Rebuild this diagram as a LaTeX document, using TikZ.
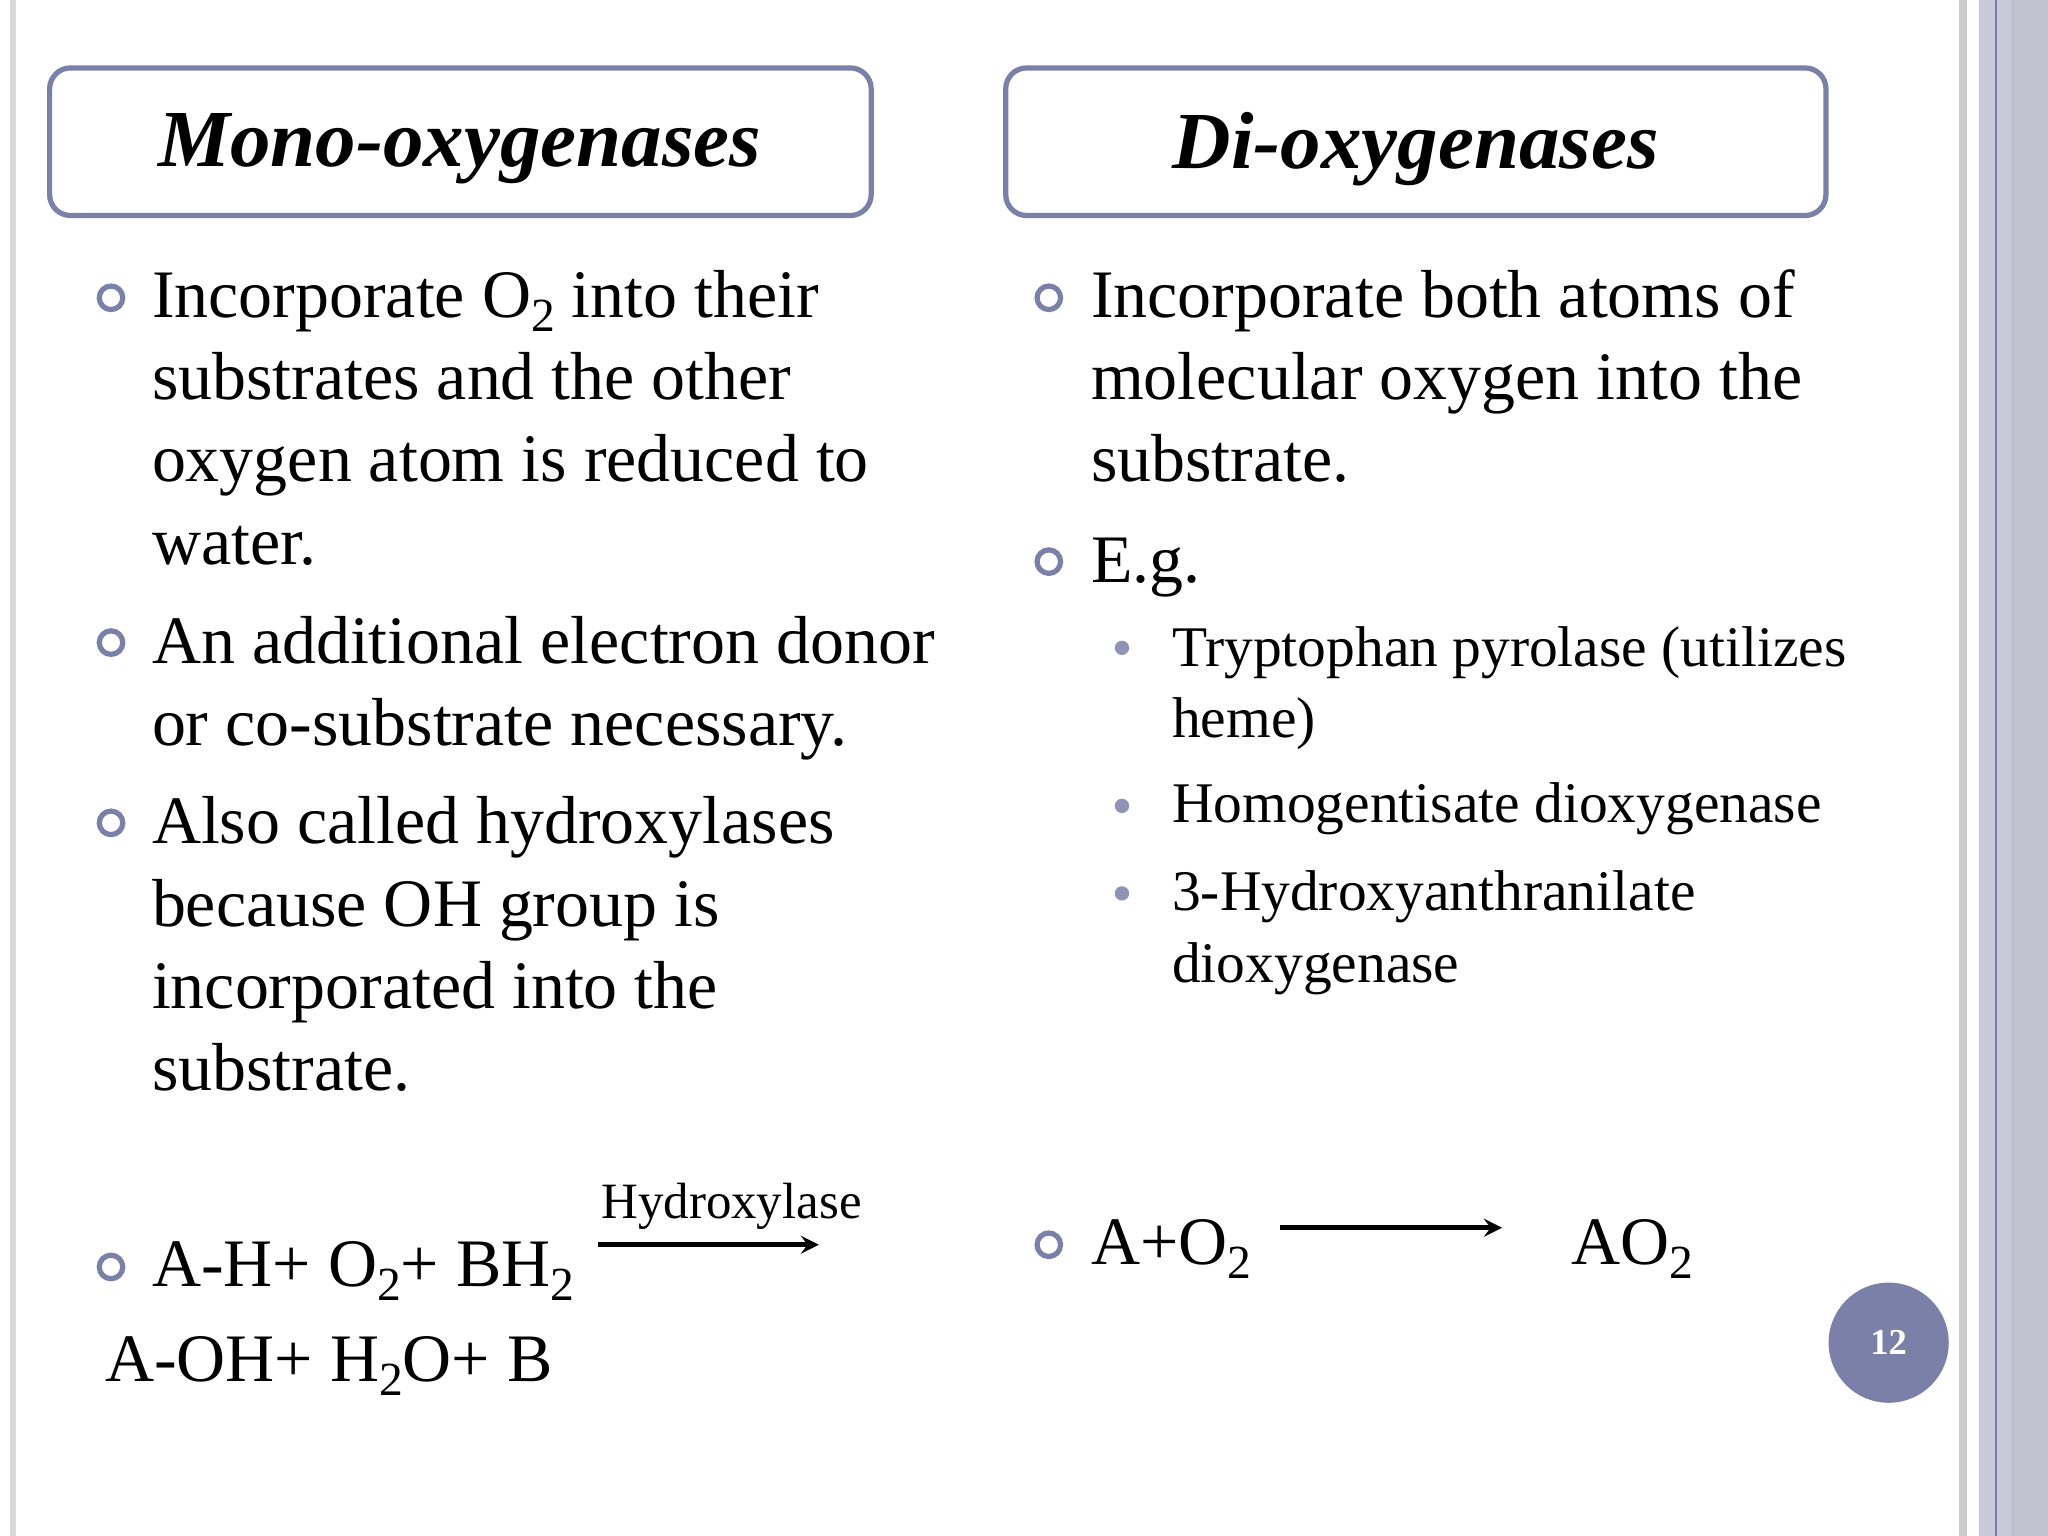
\documentclass[tikz,border=0pt]{standalone}
\usepackage{fontspec}
\setmainfont{Liberation Serif}
\newcommand{\sbs}[1]{\raisebox{-0.45ex}{\fontsize{0.7em}{1em}\selectfont #1}}
\begin{document}
\begin{tikzpicture}[x=0.5pt,y=-0.5pt,
  hbox/.style={draw=boxc,line width=2pt,rounded corners=8pt},
  ttl/.style={font=\fontsize{31}{33}\selectfont\bfseries\itshape},
  txt/.style={anchor=base west,inner sep=0,font=\fontsize{26}{30}\selectfont},
  stxt/.style={anchor=base west,inner sep=0,font=\fontsize{22}{26}\selectfont},
  bul/.style={draw=boxc,line width=2pt,circle,minimum size=9pt,inner sep=0},
  sbul/.style={fill=dotc,circle,minimum size=5.5pt,inner sep=0},
  arr/.style={-stealth,line width=2pt}]
\definecolor{boxc}{HTML}{7A80A8}
\definecolor{dotc}{HTML}{8F93B5}
\definecolor{band}{HTML}{C8CAD9}
\useasboundingbox (0,0) rectangle (1568,1176);
\fill[white] (0,0) rectangle (1568,1176);
% side decoration
\fill[gray!30] (8,0) rectangle (12,1176);
\fill[gray!40] (1500,0) rectangle (1506,1176);
\fill[band] (1515,0) rectangle (1568,1176);
\fill[band!96!black] (1540,0) rectangle (1568,1176);
\draw[boxc,line width=0.6pt] (1528,0) -- (1528,1176);
% headers
\draw[hbox] (38,52) rectangle (667,165);
\node[ttl] (tl) at (352,114) {Mono-oxygenases};
\draw[hbox] (770,52) rectangle (1398,165);
\node[ttl] (tr) at (1084,114) {Di-oxygenases};
% left column
\node[bul] (b1) at (85,228) {};
\node[txt] (l1) at (116,243) {Incorporate O\sbs{2} into their};
\node[txt] (l2) at (116,306) {substrates and the other};
\node[txt] (l3) at (116,369) {oxygen atom is reduced to};
\node[txt] (l4) at (116,432) {water.};
\node[bul] (b2) at (85,492) {};
\node[txt] (l5) at (116,508) {An additional electron donor};
\node[txt] (l6) at (116,571) {or co-substrate necessary.};
\node[bul] (b3) at (85,630) {};
\node[txt] (l7) at (116,646) {Also called hydroxylases};
\node[txt] (l8) at (116,709) {because OH group is};
\node[txt] (l9) at (116,772) {incorporated into the};
\node[txt] (l10) at (116,835) {substrate.};
% right column
\node[bul] (r1b) at (803,228) {};
\node[txt] (r1) at (835,243) {Incorporate both atoms of};
\node[txt] (r2) at (835,306) {molecular oxygen into the};
\node[txt] (r3) at (835,369) {substrate.};
\node[bul] (r4b) at (803,430) {};
\node[txt] (r4) at (835,446) {E.g.};
\node[sbul] (s1b) at (859,496) {};
\node[stxt] (s1) at (897,510) {Tryptophan pyrolase (utilizes};
\node[stxt] (s2) at (897,565) {heme)};
\node[sbul] (s3b) at (859,617) {};
\node[stxt] (s3) at (897,630) {Homogentisate dioxygenase};
\node[sbul] (s4b) at (859,684) {};
\node[stxt] (s4) at (897,697) {3-Hydroxyanthranilate};
\node[stxt] (s5) at (897,752) {dioxygenase};
% equations
\node[bul] (e1b) at (85,970) {};
\node[txt] (e1) at (116,985) {A-H+ O\sbs{2}+ BH\sbs{2}};
\node[txt] (e2) at (80,1058) {A-OH+ H\sbs{2}O+ B};
\node[stxt,font=\fontsize{19.5}{22}\selectfont] (hy) at (460,933) {Hydroxylase};
\coordinate (a1s) at (458,953); \coordinate (a1e) at (627,953);
\draw[arr] (a1s) -- (a1e);
\node[bul] (e3b) at (803,953) {};
\node[txt] (e3) at (835,968) {A+O\sbs{2}};
\coordinate (a2s) at (980,940); \coordinate (a2e) at (1150,940);
\draw[arr] (a2s) -- (a2e);
\node[txt] (e4) at (1203,968) {AO\sbs{2}};
% page number
\node[circle,fill=boxc,minimum size=46pt,inner sep=0,text=white,font=\fontsize{14}{16}\selectfont\bfseries] (pg) at (1446,1028) {12};
\end{tikzpicture}
\end{document}
